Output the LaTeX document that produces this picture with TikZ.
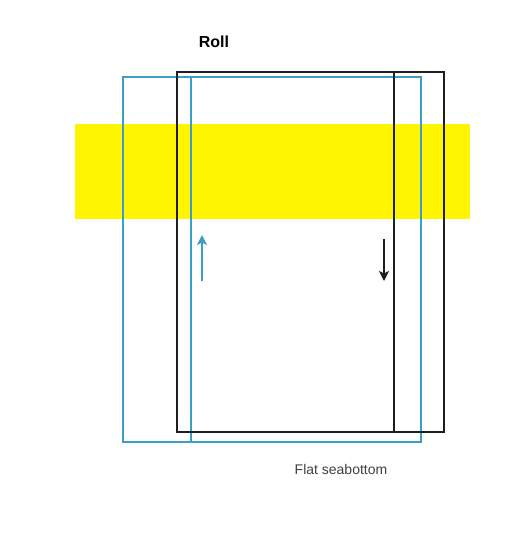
\documentclass[tikz,border=0pt]{standalone}
\usepackage{fontspec}
\setmainfont{Liberation Sans}
\usetikzlibrary{arrows.meta}
\definecolor{bandyellow}{HTML}{FFF500}
\definecolor{rollblue}{HTML}{3C9DC6}
\definecolor{rollblack}{HTML}{1E1E1E}
\tikzset{
  blueline/.style={draw=rollblue, line width=1.8pt},
  blackline/.style={draw=rollblack, line width=1.8pt},
  tipstyle/.style={-{Stealth[length=10pt,width=10pt,inset=2.5pt]}},
  lbl/.style={inner sep=0pt, text=black!75},
}
\begin{document}
\begin{tikzpicture}[x=1pt,y=-1pt]
\useasboundingbox (0,0) rectangle (532,539);
\fill[white] (0,0) rectangle (532,539);
% yellow band
\fill[bandyellow] (75,124) rectangle (470,219);
% blue frame
\draw[blueline] (123,77) rectangle (421,442);
\draw[blueline] (191,77) -- (191,442);
% black frame
\draw[blackline] (177,72) rectangle (444,432);
\draw[blackline] (394,72) -- (394,432);
% arrows
\coordinate (bs) at (202,281);
\coordinate (be) at (202,235);
\draw[blueline, line width=1.6pt, tipstyle] (bs) -- (be);
\coordinate (ks) at (384,239);
\coordinate (ke) at (384,281);
\draw[blackline, line width=1.6pt, tipstyle] (ks) -- (ke);
% labels
\node[lbl, font=\bfseries\fontsize{16}{18}\selectfont, text=black] (roll) at (214,42) {Roll};
\node[lbl, font=\fontsize{14}{16}\selectfont] (flat) at (341,469) {Flat seabottom};
\end{tikzpicture}
\end{document}
